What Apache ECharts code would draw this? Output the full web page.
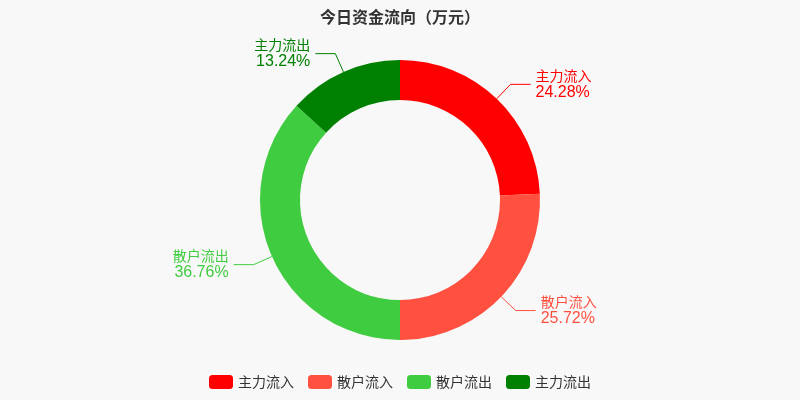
<!DOCTYPE html><html><head><meta charset="utf-8"><script src="https://cdn.jsdelivr.net/npm/echarts@6/dist/echarts.min.js"></script></head><body style="margin:0;background:#f8f8f8"><div id="c" style="width:800px;height:400px"></div><script>
const names=['主力流入','散户流入','散户流出','主力流出'];
const values=[24.28,25.72,36.76,13.24];
const colors=['#ff0000','#ff5040','#40cc40','#008000'];
const ch=echarts.init(document.getElementById('c'));
ch.setOption({backgroundColor:'#f8f8f8',
title:{text:'今日资金流向（万元）',left:'center',top:4,textStyle:{fontSize:16,fontWeight:'bold',color:'#333',fontFamily:'Noto Sans CJK SC'}},
legend:{bottom:6,itemWidth:24,itemHeight:14,itemGap:14,textStyle:{fontSize:14,color:'#333',fontFamily:'Noto Sans CJK SC'},data:names},
color:colors,
series:[{type:'pie',radius:[100,140],center:[400,200],startAngle:90,clockwise:true,
label:{formatter:p=>'{a|'+p.name+'}\n{b|'+p.value.toFixed(2)+'%}',color:'inherit',rich:{a:{fontSize:14,fontFamily:'Noto Sans CJK SC',lineHeight:16},b:{fontSize:16,lineHeight:18}}},
labelLine:{length:20,length2:20},
data:names.map((n,i)=>({name:n,value:values[i]}))}]});
</script></body></html>
